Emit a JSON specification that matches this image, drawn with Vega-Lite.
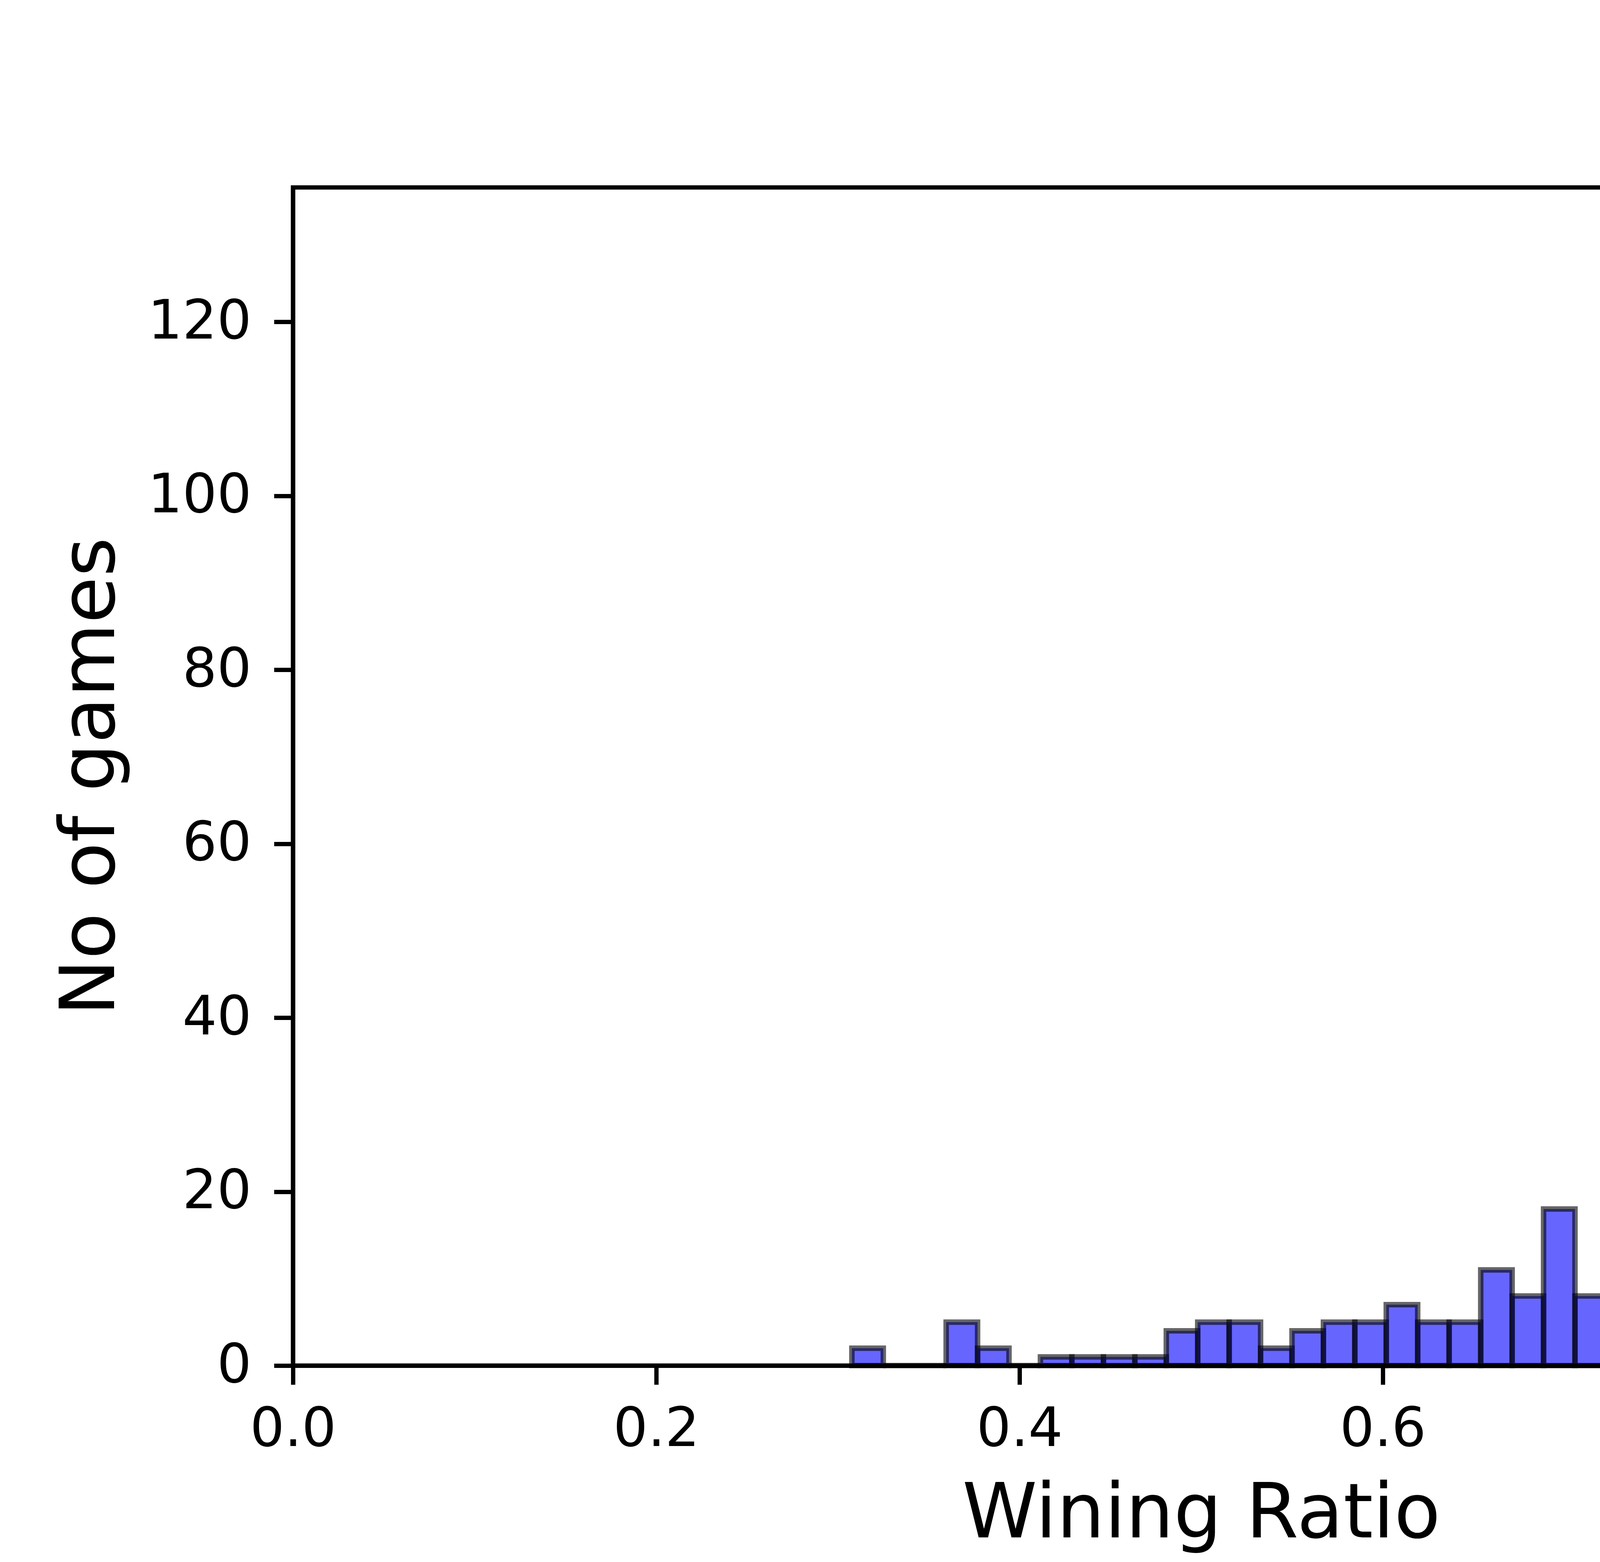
{
  "$schema": "https://vega.github.io/schema/vega-lite/v6.json",
  "width": 4650,
  "height": 3017,
  "autosize": {"type": "none"},
  "padding": {"left": 750, "top": 480, "right": 600, "bottom": 503},
  "background": "white",
  "data": {
    "values": [
      {"bin_start": 0.3077, "bin_end": 0.3250, "count": 2},
      {"bin_start": 0.3250, "bin_end": 0.3423, "count": 0},
      {"bin_start": 0.3423, "bin_end": 0.3596, "count": 0},
      {"bin_start": 0.3596, "bin_end": 0.3769, "count": 5},
      {"bin_start": 0.3769, "bin_end": 0.3942, "count": 2},
      {"bin_start": 0.3942, "bin_end": 0.4115, "count": 0},
      {"bin_start": 0.4115, "bin_end": 0.4288, "count": 1},
      {"bin_start": 0.4288, "bin_end": 0.4462, "count": 1},
      {"bin_start": 0.4462, "bin_end": 0.4635, "count": 1},
      {"bin_start": 0.4635, "bin_end": 0.4808, "count": 1},
      {"bin_start": 0.4808, "bin_end": 0.4981, "count": 4},
      {"bin_start": 0.4981, "bin_end": 0.5154, "count": 5},
      {"bin_start": 0.5154, "bin_end": 0.5327, "count": 5},
      {"bin_start": 0.5327, "bin_end": 0.5500, "count": 2},
      {"bin_start": 0.5500, "bin_end": 0.5673, "count": 4},
      {"bin_start": 0.5673, "bin_end": 0.5846, "count": 5},
      {"bin_start": 0.5846, "bin_end": 0.6019, "count": 5},
      {"bin_start": 0.6019, "bin_end": 0.6192, "count": 7},
      {"bin_start": 0.6192, "bin_end": 0.6365, "count": 5},
      {"bin_start": 0.6365, "bin_end": 0.6539, "count": 5},
      {"bin_start": 0.6539, "bin_end": 0.6712, "count": 11},
      {"bin_start": 0.6712, "bin_end": 0.6885, "count": 8},
      {"bin_start": 0.6885, "bin_end": 0.7058, "count": 18},
      {"bin_start": 0.7058, "bin_end": 0.7231, "count": 8},
      {"bin_start": 0.7231, "bin_end": 0.7404, "count": 11},
      {"bin_start": 0.7404, "bin_end": 0.7577, "count": 24},
      {"bin_start": 0.7577, "bin_end": 0.7750, "count": 16},
      {"bin_start": 0.7750, "bin_end": 0.7923, "count": 24},
      {"bin_start": 0.7923, "bin_end": 0.8096, "count": 20},
      {"bin_start": 0.8096, "bin_end": 0.8269, "count": 17},
      {"bin_start": 0.8269, "bin_end": 0.8442, "count": 24},
      {"bin_start": 0.8442, "bin_end": 0.8616, "count": 29},
      {"bin_start": 0.8616, "bin_end": 0.8789, "count": 37},
      {"bin_start": 0.8789, "bin_end": 0.8962, "count": 33},
      {"bin_start": 0.8962, "bin_end": 0.9135, "count": 59},
      {"bin_start": 0.9135, "bin_end": 0.9308, "count": 63},
      {"bin_start": 0.9308, "bin_end": 0.9481, "count": 56},
      {"bin_start": 0.9481, "bin_end": 0.9654, "count": 85},
      {"bin_start": 0.9654, "bin_end": 0.9827, "count": 69},
      {"bin_start": 0.9827, "bin_end": 1.0000, "count": 129}
    ]
  },
  "mark": {
    "type": "rect",
    "fill": "#0000ff",
    "fillOpacity": 0.6,
    "stroke": "#000000",
    "strokeOpacity": 0.6,
    "strokeWidth": 14
  },
  "encoding": {
    "x": {
      "field": "bin_start",
      "type": "quantitative",
      "scale": {"domain": [0, 1], "nice": false, "zero": false},
      "axis": {
        "title": "Wining Ratio",
        "values": [0, 0.2, 0.4, 0.6, 0.8, 1.0],
        "format": ".1f",
        "grid": false,
        "domain": true,
        "domainColor": "black",
        "domainWidth": 11,
        "tickColor": "black",
        "tickSize": 48.6,
        "tickWidth": 11,
        "labelFont": "DejaVu Sans",
        "labelFontSize": 139,
        "labelColor": "black",
        "labelBaseline": "alphabetic",
        "labelPadding": 157,
        "labelLimit": 2000,
        "labelFlush": false,
        "labelOverlap": false,
        "titleFont": "DejaVu Sans",
        "titleFontSize": 194,
        "titleFontWeight": "normal",
        "titleColor": "black",
        "titleLimit": 4000,
        "titleX": 2325,
        "titleY": 439,
        "titleAlign": "center",
        "titleBaseline": "alphabetic",
        "zindex": 1
      }
    },
    "x2": {"field": "bin_end"},
    "y": {
      "field": "count",
      "type": "quantitative",
      "scale": {"domain": [0, 135.45], "nice": false},
      "axis": {
        "title": "No of games",
        "values": [0, 20, 40, 60, 80, 100, 120],
        "grid": false,
        "domain": true,
        "domainColor": "black",
        "domainWidth": 11,
        "tickColor": "black",
        "tickSize": 48.6,
        "tickWidth": 11,
        "labelFont": "DejaVu Sans",
        "labelFontSize": 139,
        "labelColor": "black",
        "labelPadding": 58,
        "labelLimit": 2000,
        "labelFlush": false,
        "labelOverlap": false,
        "titleFont": "DejaVu Sans",
        "titleFontSize": 194,
        "titleFontWeight": "normal",
        "titleColor": "black",
        "titleLimit": 4000,
        "titleAngle": 270,
        "titleX": -459,
        "titleY": 1508,
        "titleAlign": "center",
        "titleBaseline": "alphabetic",
        "zindex": 1
      }
    },
    "y2": {"datum": 0}
  },
  "config": {
    "view": {"stroke": "black", "strokeWidth": 11}
  }
}
